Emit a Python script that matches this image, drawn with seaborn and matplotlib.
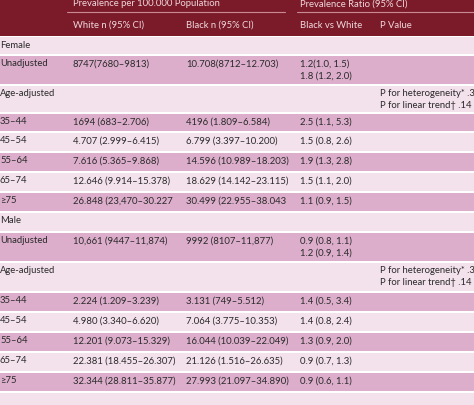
import matplotlib
matplotlib.use("Agg")
import matplotlib.pyplot as plt
import seaborn as sns

sns.set_theme(style="white")
plt.rcParams['font.family'] = ['Lato', 'DejaVu Sans']

labels = ["Female", "Unadjusted", "Age-adjusted", "35–44", "45–54", "55–64", "65–74", "≥75",
          "Male", "Unadjusted", "Age-adjusted", "35–44", "45–54", "55–64", "65–74", "≥75"]
white = ["", "8747(7680–9813)", "", "1694 (683–2.706)", "4.707 (2.999–6.415)", "7.616 (5.365–9.868)",
         "12.646 (9.914–15.378)", "26.848 (23,470–30.227", "", "10,661 (9447–11,874)", "",
         "2.224 (1.209–3.239)", "4.980 (3.340–6.620)", "12.201 (9.073–15.329)",
         "22.381 (18.455–26.307)", "32.344 (28.811–35.877)"]
black = ["", "10.708(8712–12.703)", "", "4196 (1.809–6.584)", "6.799 (3.397–10.200)",
         "14.596 (10.989–18.203)", "18.629 (14.142–23.115)", "30.499 (22.955–38.043", "",
         "9992 (8107–11,877)", "", "3.131 (749–5.512)", "7.064 (3.775–10.353)",
         "16.044 (10.039–22.049)", "21.126 (1.516–26.635)", "27.993 (21.097–34.890)"]
ratio = ["", "1.2(1.0, 1.5)\n1.8 (1.2, 2.0)", "", "2.5 (1.1, 5.3)", "1.5 (0.8, 2.6)", "1.9 (1.3, 2.8)",
         "1.5 (1.1, 2.0)", "1.1 (0.9, 1.5)", "", "0.9 (0.8, 1.1)\n1.2 (0.9, 1.4)", "",
         "1.4 (0.5, 3.4)", "1.4 (0.8, 2.4)", "1.3 (0.9, 2.0)", "0.9 (0.7, 1.3)", "0.9 (0.6, 1.1)"]
pval = ["", "", "P for heterogeneity* .30\nP for linear trend† .14", "", "", "", "", "",
        "", "", "P for heterogeneity* .30\nP for linear trend† .14", "", "", "", "", ""]
row_heights = [19, 30, 28, 19, 20, 20, 20, 20, 20, 30, 30, 20, 20, 20, 20, 20]
header_top = "Prevalence per 100.000 Population"
header_top2 = "Prevalence Ratio (95% CI)"
headers = ["White n (95% CI)", "Black n (95% CI)", "Black vs White", "P Value"]

W, H = 474, 406
fig = plt.figure(figsize=(W / 100, H / 100), dpi=100)
ax = fig.add_axes([0, 0, 1, 1])
ax.set_xlim(0, W)
ax.set_ylim(H, 0)
ax.axis("off")

dark = "#7b1b2a"
c_light = "#f3e1ec"
c_dark = "#dcaecb"
head_h = 37
ax.barh([head_h / 2], [W], height=head_h, left=0, color=dark, linewidth=0)
ax.plot([67, 285], [13, 13], color="#c98a95", lw=0.8)
ax.plot([297, W], [13, 13], color="#c98a95", lw=0.8)
tc = "#f0d8dc"
fs = 6.8
ax.text(73, 4, header_top, color=tc, fontsize=fs, va="center")
ax.text(300, 4, header_top2, color=tc, fontsize=fs, va="center")
for x, h in zip([73, 186, 300, 380], headers):
    ax.text(x, 25, h, color=tc, fontsize=fs, va="center")

xs = [0, 73, 186, 300, 380]
y = head_h
for i, rh in enumerate(row_heights):
    col = c_light if i % 2 == 0 else c_dark
    ax.barh([y + 1 + (rh - 2) / 2], [W], height=rh - 2, left=0, color=col, linewidth=0)
    ty = y + 8
    ax.text(xs[0], ty, labels[i], fontsize=fs, va="center", color="#2a2a2a")
    for x, t in zip(xs[1:], [white[i], black[i], ratio[i], pval[i]]):
        if t:
            ax.text(x, ty - 4.5, t, fontsize=fs, va="top", color="#2a2a2a", linespacing=1.4)
    y += rh
ax.barh([y + 1 + (H - y) / 2], [W], height=H - y, left=0, color=c_light, linewidth=0)

fig.savefig("out.png", dpi=100)
